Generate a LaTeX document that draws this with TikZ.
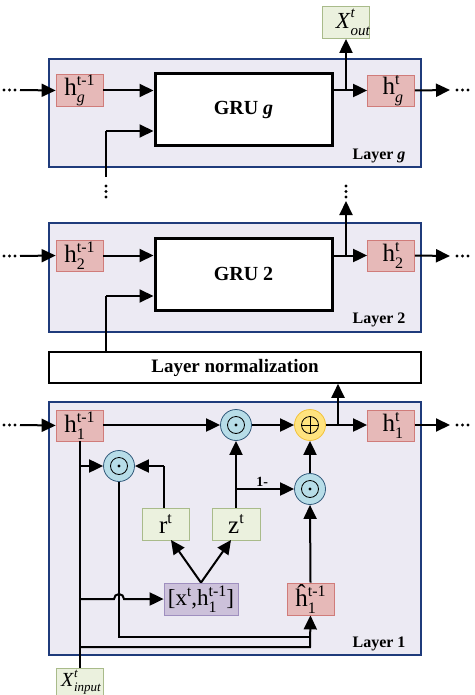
\documentclass[tikz,border=0pt]{standalone}
\usepackage{fontspec}
\setmainfont{Liberation Serif}
\usetikzlibrary{arrows.meta}
\definecolor{layfill}{HTML}{ECEAF3}
\definecolor{laydraw}{HTML}{1F3B7B}
\definecolor{hfill}{HTML}{E6B9B8}
\definecolor{hdraw}{HTML}{D07C7A}
\definecolor{gfill}{HTML}{EBF1DE}
\definecolor{gdraw}{HTML}{A9BB8A}
\definecolor{pfill}{HTML}{CCC1DA}
\definecolor{pdraw}{HTML}{9F8FBF}
\definecolor{cfill}{HTML}{B7DDE8}
\definecolor{cdraw}{HTML}{31597A}
\definecolor{yfill}{HTML}{FFE37F}
\definecolor{ydraw}{HTML}{F2C23A}
\newcommand{\hlab}[3]{#1\rlap{\raisebox{-0.3em}{\fontsize{16}{16}\selectfont #2}}\raisebox{0.40em}{\fontsize{16}{16}\selectfont #3}}
\tikzset{
  layerbox/.style={draw=laydraw, fill=layfill, line width=1.6pt, minimum width=372pt, inner sep=0pt},
  hbox/.style={draw=hdraw, fill=hfill, line width=0.8pt, minimum width=47pt, minimum height=31pt, inner sep=0pt, font=\fontsize{25}{25}\selectfont},
  gbox/.style={draw=gdraw, fill=gfill, line width=0.8pt, minimum width=47pt, minimum height=32pt, inner sep=0pt, font=\fontsize{25}{25}\selectfont},
  pbox/.style={draw=pdraw, fill=pfill, line width=0.8pt, minimum width=74pt, minimum height=32pt, inner sep=0pt, font=\fontsize{23}{23}\selectfont},
  grubox/.style={draw=black, fill=white, line width=3pt, minimum width=177pt, minimum height=72pt, inner sep=0pt, font=\fontsize{20}{20}\selectfont\bfseries},
  opcirc/.style={circle, draw=cdraw, fill=cfill, line width=0.8pt, minimum size=31pt, inner sep=0pt},
  pluscirc/.style={circle, draw=ydraw, fill=yfill, line width=0.8pt, minimum size=31pt, inner sep=0pt},
  laylab/.style={font=\fontsize{16}{16}\selectfont\bfseries, anchor=east},
  flow/.style={line width=2pt, -{Triangle[length=14pt,width=13pt]}},
  plain/.style={line width=2pt}
}
\newcommand{\odotsym}[1]{\draw[line width=0.8pt] (#1.center) circle (8.5pt); \fill (#1.center) circle (1.7pt);}
\newcommand{\oplussym}[1]{\draw[line width=0.8pt] (#1.center) circle (8.5pt); \draw[line width=0.8pt] ([xshift=-8.5pt]#1.center) -- ([xshift=8.5pt]#1.center) ([yshift=-8.5pt]#1.center) -- ([yshift=8.5pt]#1.center);}
\newcommand{\hdots}[2]{\foreach \i in {0,1,2} {\fill ({#1+5.5*\i},#2) circle (1.6pt);}}
\newcommand{\vdotsm}[2]{\foreach \i in {0,1,2} {\fill (#1,{#2+5.5*\i}) circle (1.6pt);}}
\begin{document}
\begin{tikzpicture}[x=1pt,y=-1pt]
\useasboundingbox (0,0) rectangle (474,695);
\clip (0,0) rectangle (474,695);
% ---------- Layer g ----------
\node[layerbox, minimum height=108pt] (Lg) at (235,113) {};
\node[hbox] (hg1) at (79.5,90.5) {\hlab{h}{\textit{g}}{t-1}};
\node[grubox] (grug) at (243.5,110) {GRU \textit{g}};
\node[hbox] (hgt) at (391,90.5) {\hlab{h}{\textit{g}}{t}};
\node[gbox, font=\fontsize{23}{23}\selectfont] (xout) at (345.5,22.5) {\textit{X}\rlap{\raisebox{-0.32em}{\fontsize{15}{15}\selectfont\textit{out}}}\raisebox{0.45em}{\fontsize{15}{15}\selectfont\textit{t}}\hspace{15pt}};
\node[laylab] (lgl) at (409,156) {Layer \textit{g}};
\coordinate (gin) at (20,90);
\coordinate (gout) at (450,90);
\coordinate (gbr) at (346,90);
\coordinate (gup) at (106,177);
\coordinate (gupk) at (106,131);
\draw[flow] (gin) -- (hg1.west);
\draw[flow] (hg1.east) -- (hg1.east -| grug.west);
\draw[flow] (hgt.west -| grug.east) -- (hgt.west);
\draw[flow] (gbr) -- (gbr |- xout.south);
\draw[flow] (hgt.east) -- (gout);
\draw[plain] (gup) -- (gupk);
\draw[flow] (gupk) -- (gupk -| grug.west);
\hdots{4}{90}
\hdots{457}{90}
\vdotsm{106}{186}
\vdotsm{346}{186}
% ---------- Layer 2 ----------
\node[layerbox, minimum height=109pt] (L2) at (235,277.5) {};
\node[hbox] (h21) at (79.5,255.5) {\hlab{h}{2}{t-1}};
\node[grubox] (gru2) at (243.5,274) {GRU 2};
\node[hbox] (h2t) at (391,255.5) {\hlab{h}{2}{t}};
\node[laylab] (l2l) at (409,320) {Layer 2};
\coordinate (in2) at (20,256);
\coordinate (out2) at (450,256);
\coordinate (br2) at (346,256);
\coordinate (up2) at (346,201);
\coordinate (k2) at (106,296);
\draw[flow] (in2) -- (h21.west);
\draw[flow] (h21.east) -- (h21.east -| gru2.west);
\draw[flow] (h2t.west -| gru2.east) -- (h2t.west);
\draw[flow] (br2) -- (up2);
\draw[flow] (h2t.east) -- (out2);
\hdots{4}{256}
\hdots{457}{256}
% ---------- Layer normalization ----------
\node[draw=black, fill=white, line width=1.6pt, minimum width=372pt, minimum height=31pt, inner sep=0pt, font=\fontsize{19}{19}\selectfont\bfseries] (ln) at (235,367.5) {Layer normalization};
\draw[plain] (ln.north -| k2) -- (k2);
\draw[flow] (k2) -- (k2 -| gru2.west);
% ---------- Layer 1 ----------
\node[layerbox, minimum height=253pt] (L1) at (235,528.5) {};
\node[hbox] (h11) at (79.5,425.5) {\hlab{h}{1}{t-1}};
\node[opcirc] (oA) at (236,425) {};
\node[pluscirc] (oP) at (310,425) {};
\node[hbox] (h1t) at (391,425.5) {\hlab{h}{1}{t}};
\node[opcirc] (oB) at (119,466) {};
\node[opcirc] (oC) at (310,489) {};
\node[gbox] (rt) at (165.5,524) {r\raisebox{0.40em}{\fontsize{16}{16}\selectfont t}};
\node[gbox, minimum width=48pt] (zt) at (236,524) {z\raisebox{0.40em}{\fontsize{16}{16}\selectfont t}};
\node[pbox] (cat) at (201,599) {[x\raisebox{0.40em}{\fontsize{15}{15}\selectfont t},\hlab{h}{1}{t-1}]};
\node[hbox, minimum height=32pt] (hh) at (310.5,599) {\hlab{ĥ}{1}{t-1}};
\node[gbox, minimum height=40pt] (xin) at (79.5,688) {};
\node[font=\fontsize{20}{20}\selectfont, anchor=north west, inner sep=0pt] (xint) at (61,670) {\textit{X}\rlap{\raisebox{-0.25em}{\fontsize{13}{13}\selectfont\textit{input}}}\raisebox{0.45em}{\fontsize{13}{13}\selectfont\textit{t}}};
\node[laylab] (l1l) at (409,644) {Layer 1};
\odotsym{oA}
\odotsym{oB}
\odotsym{oC}
\oplussym{oP}
\coordinate (in1) at (20,425);
\coordinate (out1) at (450,425);
\coordinate (br1) at (338,425);
\coordinate (zb) at (236,489);
\coordinate (rk) at (164,466);
\coordinate (jA) at (80,599);
\coordinate (jB) at (80,647);
\coordinate (jBk) at (310,647);
\coordinate (oBk) at (119,637);
\coordinate (hop1) at (114,599);
\draw[flow] (in1) -- (h11.west);
\draw[flow] (h11.east |- oA) -- (oA.west);
\draw[flow] (oA.east) -- (oP.west);
\draw[flow] (oP.east) -- (h1t.west |- oP);
\draw[flow] (h1t.east |- oP) -- (out1);
\draw[flow] (br1) -- (br1 |- ln.south);
\hdots{4}{425}
\hdots{457}{425}
% vertical trunk
\draw[plain] (h11.south -| jA) -- (xin.north -| jA);
\draw[flow] (jA |- oB) -- (oB.west);
\draw[plain] (rt.north -| rk) -- (rk);
\draw[flow] (rk) -- (oB.east);
\draw[flow] (zt.north) -- (oA.south);
\draw[flow] (zb) -- (oC.west) node[pos=0.45, above, font=\fontsize{14}{14}\selectfont\bfseries, inner sep=2pt] {1-};
\draw[flow] (oC.north) -- (oP.south);
\draw[flow] (cat.north) -- (171,540);
\draw[flow] (cat.north) -- (231,540);
\draw[flow] (hh.north) -- (oC.south);
\draw[plain] (oB.south) -- (oBk) -- (oBk -| jBk);
\draw[flow] (jB) -- (jBk) -- (hh.south);
\draw[flow] (jA) -- (hop1) arc[start angle=180, end angle=0, radius=5pt] -- (cat.west);
\end{tikzpicture}
\end{document}
